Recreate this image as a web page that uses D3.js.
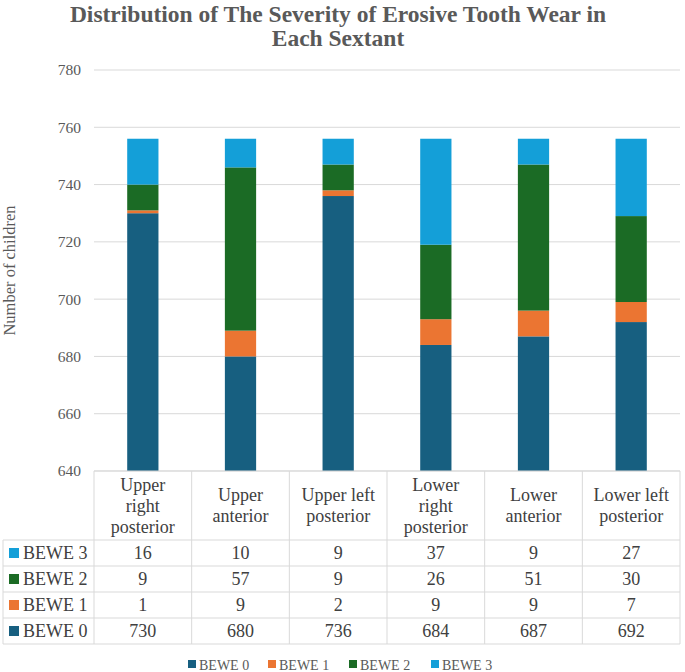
<!DOCTYPE html>
<html lang="en">
  <head>
    <meta charset="utf-8" />
    <title>Erosive Tooth Wear by Sextant</title>
    <script src="https://cdnjs.cloudflare.com/ajax/libs/d3/7.8.5/d3.min.js"></script>
    <style type="text/css">
      html,
      body {
        margin: 0;
        padding: 0;
        background: #fff;
        overflow: hidden;
      }
      svg {
        display: block;
      }
    </style>
  </head>

  <body>
    <div id="chart"></div>

    <script>
      // data
      const sextants = [
        "Upper right posterior",
        "Upper anterior",
        "Upper left posterior",
        "Lower right posterior",
        "Lower anterior",
        "Lower left posterior",
      ];
      const headerLines = [
        ["Upper", "right", "posterior"],
        ["Upper", "anterior"],
        ["Upper left", "posterior"],
        ["Lower", "right", "posterior"],
        ["Lower", "anterior"],
        ["Lower left", "posterior"],
      ];
      const series = ["BEWE 0", "BEWE 1", "BEWE 2", "BEWE 3"];
      const bewe0 = [730, 680, 736, 684, 687, 692];
      const bewe1 = [1, 9, 2, 9, 9, 7];
      const bewe2 = [9, 57, 9, 26, 51, 30];
      const bewe3 = [16, 10, 9, 37, 9, 27];
      const yTicks = [640, 660, 680, 700, 720, 740, 760, 780];
      const colors = ["#175f80", "#eb7532", "#1b6b25", "#149fd8"];

      const serif = "Liberation Serif, Times New Roman, serif";
      const width = 685;
      const height = 672;
      const margin = { top: 70, right: 5, bottom: 201, left: 94 };
      const innerWidth = width - margin.left - margin.right;
      const innerHeight = height - margin.top - margin.bottom;

      const svg = d3
        .select("#chart")
        .append("svg")
        .attr("width", width)
        .attr("height", height)
        .attr("font-family", serif);

      // title
      const title = svg
        .append("text")
        .attr("x", 338)
        .attr("y", 22)
        .attr("text-anchor", "middle")
        .attr("font-weight", "bold")
        .attr("font-size", 23.5)
        .attr("fill", "#595959");
      title
        .append("tspan")
        .attr("x", 338)
        .text("Distribution of The Severity of Erosive Tooth Wear in");
      title.append("tspan").attr("x", 338).attr("dy", 24).text("Each Sextant");

      const g = svg
        .append("g")
        .attr("transform", `translate(${margin.left},${margin.top})`);

      const x = d3.scaleBand().domain(sextants).range([0, innerWidth]);
      // clamp: the axis starts at 640, so the BEWE 0 bars are cut at the base
      const y = d3
        .scaleLinear()
        .domain([640, 780])
        .range([innerHeight, 0])
        .clamp(true);

      // gridlines
      g.append("g")
        .selectAll("line")
        .data(yTicks)
        .join("line")
        .attr("x1", 0)
        .attr("x2", innerWidth)
        .attr("y1", (d) => y(d))
        .attr("y2", (d) => y(d))
        .attr("stroke", "#d9d9d9")
        .attr("stroke-width", 1);

      // y axis labels
      const yAxis = d3.axisLeft(y).tickValues(yTicks).tickSize(0).tickPadding(13);
      g.append("g")
        .call(yAxis)
        .attr("font-family", serif)
        .attr("font-size", 15.5)
        .call((s) => s.select(".domain").remove())
        .selectAll("text")
        .attr("fill", "#595959");

      svg
        .append("text")
        .attr("transform", `translate(15,${margin.top + innerHeight / 2}) rotate(-90)`)
        .attr("text-anchor", "middle")
        .attr("font-size", 16.5)
        .attr("fill", "#595959")
        .text("Number of children");

      // stacked bars
      const table = sextants.map((s, i) => ({
        sextant: s,
        "BEWE 0": bewe0[i],
        "BEWE 1": bewe1[i],
        "BEWE 2": bewe2[i],
        "BEWE 3": bewe3[i],
      }));
      const stacked = d3.stack().keys(series)(table);
      const barW = x.bandwidth() * 0.32;

      g.append("g")
        .selectAll("g")
        .data(stacked)
        .join("g")
        .attr("fill", (d, i) => colors[i])
        .selectAll("rect")
        .data((d) => d)
        .join("rect")
        .attr("x", (d) => x(d.data.sextant) + (x.bandwidth() - barW) / 2)
        .attr("width", barW)
        .attr("y", (d) => y(d[1]))
        .attr("height", (d) => y(d[0]) - y(d[1]));

      // data table under the plot
      const tableTop = margin.top + innerHeight;
      const headerH = 69;
      const rowH = 26;
      const labelLeft = 3;
      const lineColor = "#d9d9d9";
      const textColor = "#404040";
      const tg = svg.append("g").attr("font-size", 18).attr("fill", textColor);
      const rowsOrder = [3, 2, 1, 0];
      const values = [bewe0, bewe1, bewe2, bewe3];
      const tableBottom = tableTop + headerH + rowH * 4;

      // vertical lines
      const colEdges = sextants.map((s) => margin.left + x(s));
      colEdges.push(margin.left + innerWidth);
      colEdges.forEach((cx) => {
        tg.append("line")
          .attr("x1", cx)
          .attr("x2", cx)
          .attr("y1", tableTop)
          .attr("y2", tableBottom)
          .attr("stroke", lineColor);
      });
      tg.append("line")
        .attr("x1", labelLeft)
        .attr("x2", labelLeft)
        .attr("y1", tableTop + headerH)
        .attr("y2", tableBottom)
        .attr("stroke", lineColor);
      // horizontal lines
      tg.append("line")
        .attr("x1", margin.left)
        .attr("x2", margin.left + innerWidth)
        .attr("y1", tableTop)
        .attr("y2", tableTop)
        .attr("stroke", lineColor);
      d3.range(5).forEach((r) => {
        const ly = tableTop + headerH + r * rowH;
        tg.append("line")
          .attr("x1", labelLeft)
          .attr("x2", margin.left + innerWidth)
          .attr("y1", ly)
          .attr("y2", ly)
          .attr("stroke", lineColor);
      });

      // header text
      sextants.forEach((s, i) => {
        const lines = headerLines[i];
        const cx = margin.left + x(s) + x.bandwidth() / 2;
        const midY = tableTop + headerH / 2;
        const lh = 21;
        const t = tg.append("text").attr("text-anchor", "middle");
        lines.forEach((ln, k) => {
          t.append("tspan")
            .attr("x", cx)
            .attr("y", midY + (k - (lines.length - 1) / 2) * lh + 6)
            .text(ln);
        });
      });

      // rows
      rowsOrder.forEach((si, r) => {
        const ry = tableTop + headerH + r * rowH;
        tg.append("rect")
          .attr("x", 9)
          .attr("y", ry + rowH / 2 - 5)
          .attr("width", 10)
          .attr("height", 10)
          .attr("fill", colors[si]);
        tg.append("text")
          .attr("x", 23)
          .attr("y", ry + rowH / 2 + 6)
          .text(series[si]);
        sextants.forEach((s, i) => {
          tg.append("text")
            .attr("x", margin.left + x(s) + x.bandwidth() / 2)
            .attr("y", ry + rowH / 2 + 6)
            .attr("text-anchor", "middle")
            .text(values[si][i]);
        });
      });

      // legend
      const legendX = [188, 268, 349, 431];
      const lg = svg
        .append("g")
        .attr("font-size", 14)
        .attr("transform", `translate(0, ${height - 2})`);
      series.forEach((s, i) => {
        lg.append("rect")
          .attr("x", legendX[i])
          .attr("y", -10)
          .attr("width", 8)
          .attr("height", 8)
          .attr("fill", colors[i]);
        lg.append("text")
          .attr("x", legendX[i] + 11)
          .attr("y", 0)
          .attr("fill", "#595959")
          .text(s);
      });
    </script>
  </body>
</html>
